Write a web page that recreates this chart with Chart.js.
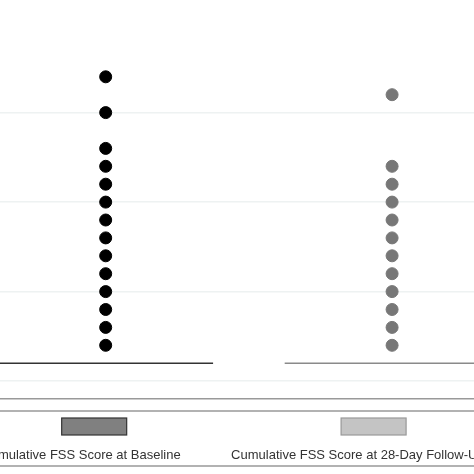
<!DOCTYPE html>
<html>
<head>
<meta charset="utf-8">
<script src="https://cdn.jsdelivr.net/npm/chart.js@4.4.1/dist/chart.umd.min.js"></script>
<style>
  html, body { margin: 0; padding: 0; background: #fff; }
  #wrap { width: 474px; height: 474px; position: relative; overflow: hidden; }
</style>
</head>
<body>
<div id="wrap"><canvas id="dotChart" width="474" height="474"></canvas></div>
<script>
// Categories (x positions 1 and 2)
const categories = ['Cumulative FSS Score at Baseline', 'Cumulative FSS Score at 28-Day Follow-Up'];
const categoryX = [1, 2];

// Dot levels
const baselineScores = [2, 3, 4, 5, 6, 7, 8, 9, 10, 11, 12, 13, 15, 17];
const followUpScores = [2, 3, 4, 5, 6, 7, 8, 9, 10, 11, 12, 16];

// Short reference segments under each column
const segmentLevel = 1;
const segmentHalfWidth = 0.375;

// Axis range (the picture is a crop of a wider figure)
const xRange = [0.631, 2.286];
const yRange = [-1, 19];
const yGridValues = [0, 5, 10, 15];

const dotColors = ['#000000', '#777777'];
const segmentColors = ['#333333', '#8a8a8a'];
const legendFill = ['#808080', '#c4c4c4'];
const legendBorder = ['#333333', '#999999'];
const legendBoxShift = [-44, -51];

function toPoints(x, values) {
    return values.map(v => ({ x, y: v }));
}

function segment(x) {
    return [{ x: x - segmentHalfWidth, y: segmentLevel }, { x: x + segmentHalfWidth, y: segmentLevel }];
}

// Legend + extra frame lines under the plot
const legendPlugin = {
    id: 'bottomLegend',
    afterDraw(chart) {
        const ctx = chart.ctx;
        const area = chart.chartArea;
        const xScale = chart.scales.x;
        ctx.save();
        ctx.strokeStyle = '#999999';
        ctx.lineWidth = 1.5;
        [area.bottom + 12, area.bottom + 67].forEach(y => {
            ctx.beginPath();
            ctx.moveTo(0, y);
            ctx.lineTo(chart.width, y);
            ctx.stroke();
        });

        ctx.font = '13px "Liberation Sans", Arial, sans-serif';
        ctx.textBaseline = 'middle';
        categories.forEach((label, i) => {
            const cx = xScale.getPixelForValue(categoryX[i]);
            const bx = cx + legendBoxShift[i];
            const by = area.bottom + 19;
            ctx.fillStyle = legendFill[i];
            ctx.fillRect(bx, by, 65, 17);
            ctx.strokeStyle = legendBorder[i];
            ctx.lineWidth = 1.2;
            ctx.strokeRect(bx, by, 65, 17);
            ctx.fillStyle = '#333333';
            ctx.textAlign = 'left';
            const start = i === 0 ? cx + 75 - ctx.measureText(label).width : cx - 161;
            ctx.fillText(label, start, area.bottom + 56);
        });
        ctx.restore();
    }
};

new Chart(document.getElementById('dotChart'), {
    type: 'scatter',
    data: {
        datasets: [
            {
                label: categories[0],
                data: toPoints(categoryX[0], baselineScores),
                backgroundColor: dotColors[0],
                borderColor: dotColors[0],
                pointRadius: 6,
                pointHoverRadius: 6
            },
            {
                label: categories[1],
                data: toPoints(categoryX[1], followUpScores),
                backgroundColor: dotColors[1],
                borderColor: dotColors[1],
                pointRadius: 6,
                pointHoverRadius: 6
            },
            {
                type: 'line',
                data: segment(categoryX[0]),
                borderColor: segmentColors[0],
                borderWidth: 1.5,
                pointRadius: 0
            },
            {
                type: 'line',
                data: segment(categoryX[1]),
                borderColor: segmentColors[1],
                borderWidth: 1.5,
                pointRadius: 0
            }
        ]
    },
    options: {
        responsive: false,
        animation: false,
        events: [],
        layout: { autoPadding: false, padding: { top: 41, bottom: 75, left: 0, right: 0 } },
        plugins: {
            legend: { display: false },
            tooltip: { enabled: false }
        },
        scales: {
            x: {
                type: 'linear',
                min: xRange[0],
                max: xRange[1],
                grid: { display: false, drawTicks: false },
                ticks: { display: false },
                border: { display: true, color: '#999999', width: 1.5 }
            },
            y: {
                min: yRange[0],
                max: yRange[1],
                afterBuildTicks: scale => {
                    scale.ticks = yGridValues.map(v => ({ value: v }));
                },
                grid: { color: '#eef2f2', lineWidth: 1.5, drawTicks: false },
                ticks: { display: false },
                border: { display: false }
            }
        }
    },
    plugins: [legendPlugin]
});
</script>
</body>
</html>
